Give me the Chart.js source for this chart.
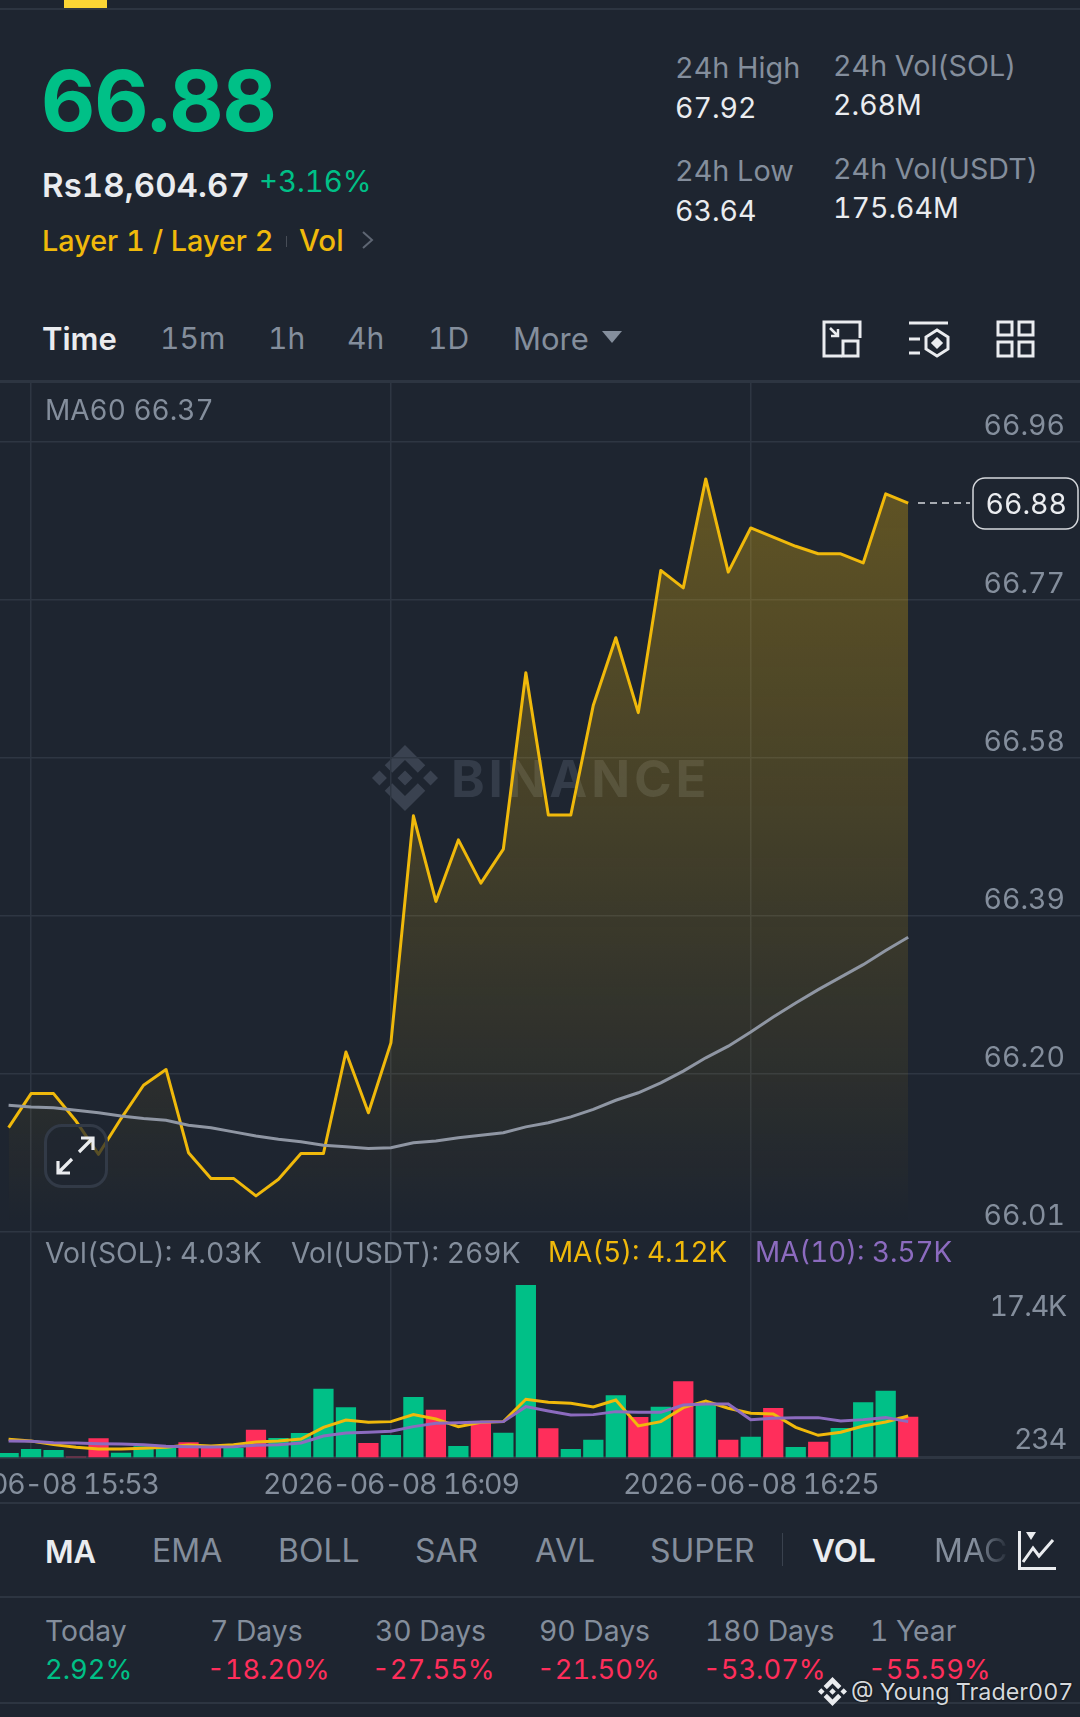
<!DOCTYPE html>
<html><head><meta charset="utf-8">
<script src="https://cdn.jsdelivr.net/npm/chart.js@4"></script>
<style>
html,body{margin:0;padding:0;background:#1e2530;width:1080px;height:1717px;overflow:hidden;font-family:Inter,sans-serif;font-variant-numeric:tabular-nums}
.t{position:absolute;white-space:nowrap;transform:translateY(-50%);line-height:1;font-size:28.3px;color:#848e9c;letter-spacing:0}
.w{color:#eaecef}.g{color:#00c087}.r{color:#ff2e5b}.y{color:#f0b90b}.b{font-weight:600}
.n{font-size:28.5px}
.ind{font-size:32px}
.hr{position:absolute;left:0;width:1080px;background:#2d3541}
canvas{position:absolute;left:0}
svg{position:absolute;overflow:visible}
</style></head><body>
<div class="hr" style="top:8px;height:2px"></div>
<div style="position:absolute;left:64px;top:0;width:43px;height:8px;background:#fcd535"></div>

<div class="t g" style="left:41px;top:101px;font-size:84px;font-weight:700;letter-spacing:-1px">66.88</div>
<div class="t w" style="left:42px;top:185px;font-size:33px;font-weight:600;letter-spacing:.1px">Rs18,604.67</div>
<div class="t g" style="left:259px;top:182px;font-size:29.3px">+3.16%</div>
<div class="t y" style="left:42px;top:241px;font-size:28.8px;font-weight:500">Layer 1 / Layer 2</div>
<div style="position:absolute;left:286px;top:236px;width:1px;height:11px;background:#474d57"></div>
<div class="t y" style="left:299px;top:241px;font-size:29.5px;font-weight:500">Vol</div>
<svg style="left:360px;top:230px" width="16" height="20"><path d="M3 2 L12 10 L3 18" fill="none" stroke="#5e6673" stroke-width="2"/></svg>

<div class="t" style="left:675px;top:68px;font-size:28.8px">24h High</div>
<div class="t w n" style="left:675px;top:108px">67.92</div>
<div class="t" style="left:833px;top:66px;font-size:28.7px">24h Vol(SOL)</div>
<div class="t w n" style="left:833px;top:105px">2.68M</div>
<div class="t" style="left:675px;top:171px;font-size:28.8px">24h Low</div>
<div class="t w n" style="left:675px;top:211px">63.64</div>
<div class="t" style="left:833px;top:169px;font-size:28.7px">24h Vol(USDT)</div>
<div class="t w n" style="left:833px;top:208px">175.64M</div>

<div class="t w b" style="left:42px;top:338px;font-size:31px">Time</div>
<div class="t" style="left:160px;top:338px;font-size:30px">15m</div>
<div class="t" style="left:268px;top:338px;font-size:30px">1h</div>
<div class="t" style="left:347px;top:338px;font-size:30px">4h</div>
<div class="t" style="left:428px;top:338px;font-size:30px">1D</div>
<div class="t" style="left:513px;top:338px;font-size:31px">More</div>
<svg style="left:602px;top:330px" width="20" height="14"><path d="M0 1 H20 L10 13 Z" fill="#848e9c"/></svg>

<svg style="left:822px;top:320px" width="40" height="38" fill="none" stroke="#eaecef" stroke-width="3"><path d="M20 2 H38 V18 M2 14 V2 H20 M2 14 V36 H20"/><rect x="21" y="21" width="15" height="15"/><path d="M8 8 L16 16 M16 9 V16 H9" stroke-width="2.500"/></svg>
<svg style="left:908px;top:320px" width="42" height="38" fill="none" stroke="#eaecef" stroke-width="3"><path d="M1 3 H40 M1 19 H12 M1 33 H12"/><path d="M29 10 L40 17 V29 L29 36 L18 29 V17 Z"/><path d="M29 19 L33 23 L29 27 L25 23 Z" fill="#eaecef"/></svg>
<svg style="left:996px;top:320px" width="40" height="38" fill="none" stroke="#eaecef" stroke-width="3"><rect x="2" y="2" width="14" height="13"/><rect x="23" y="2" width="14" height="13"/><rect x="2" y="22" width="14" height="14"/><rect x="23" y="22" width="14" height="14"/></svg>

<div class="hr" style="top:380px;height:3px"></div>

<!-- watermark sits behind the transparent chart canvas -->
<svg style="left:372px;top:745px" width="66" height="66" viewBox="0 0 126.61 126.61" fill="#3a4250"><path d="M38.73 53.2L63.3 28.64l24.59 24.58 14.3-14.3L63.3 0 24.43 38.9l14.3 14.3zM0 63.31l14.3-14.31 14.31 14.31-14.31 14.3zM38.73 73.41L63.3 97.97l24.59-24.58 14.31 14.29-38.9 38.91-38.86-38.88-.02-.02zM97.99 63.31l14.3-14.31 14.32 14.3-14.32 14.31zM77.83 63.3l-14.5-14.52-10.73 10.73-1.24 1.23-2.54 2.54 14.51 14.5 14.5-14.49z"/></svg>
<div class="t" style="left:451px;top:778px;font-size:51px;font-weight:700;color:#343c49;letter-spacing:3.8px">BINANCE</div>

<canvas id="priceChart" width="1080" height="851" style="top:383px;width:1080px;height:851px"></canvas>
<canvas id="volumeChart" width="1080" height="266" style="top:1234px;width:1080px;height:266px"></canvas>

<div class="t" style="left:45px;top:410px;font-size:28px">MA60 66.37</div>

<div style="position:absolute;left:44px;top:1124px;width:58px;height:58px;border:3px solid #323a47;border-radius:18px;background:rgba(30,37,48,.72)"></div>
<svg style="left:55px;top:1135px" width="42" height="42" fill="none" stroke="#eaecef" stroke-width="3.2"><path d="M24 17 L38 3 M26 3 H38 V15"/><path d="M17 24 L3 38 M3 26 V38 H15"/></svg>

<div class="t" style="left:45px;top:1253px">Vol(SOL): 4.03K</div>
<div class="t" style="left:291px;top:1253px;font-size:28.2px">Vol(USDT): 269K</div>
<div class="t y" style="left:548px;top:1253px;font-size:27.8px">MA(5): 4.12K</div>
<div class="t" style="left:755px;top:1253px;font-size:27.8px;color:#8c6bbf">MA(10): 3.57K</div>

<div class="hr" style="top:1502px;height:2px"></div>
<div class="t w b ind" style="left:45px;top:1551px;font-size:31px">MA</div>
<div class="t ind" style="left:152px;top:1551px">EMA</div>
<div class="t ind" style="left:278px;top:1551px">BOLL</div>
<div class="t ind" style="left:415px;top:1551px">SAR</div>
<div class="t ind" style="left:535px;top:1551px">AVL</div>
<div class="t ind" style="left:650px;top:1551px">SUPER</div>
<div style="position:absolute;left:782px;top:1533px;width:1px;height:33px;background:#3a424e"></div>
<div class="t w b ind" style="left:812px;top:1551px;font-size:31.5px">VOL</div>
<div class="t ind" style="left:934px;top:1551px;width:76px;overflow:hidden;height:34px;line-height:34px;-webkit-mask-image:linear-gradient(90deg,#000 55%,transparent)">MACD</div>
<svg style="left:1018px;top:1531px" width="40" height="40" fill="none" stroke="#eaecef" stroke-width="3"><path d="M1.500 0 V37.500 H38"/><path d="M5 31 L15 17 L21 25 L35 9"/><path d="M8 1 H18 L13 9 Z" fill="#eaecef" stroke="none"/></svg>

<div class="hr" style="top:1596px;height:2px"></div>
<div class="t" style="left:45px;top:1631px">Today</div><div class="t g" style="left:45px;top:1670px;font-size:27.3px">2.92%</div>
<div class="t" style="left:210px;top:1631px">7 Days</div><div class="t r" style="left:207px;top:1670px;font-size:27.3px">-18.20%</div>
<div class="t" style="left:375px;top:1631px">30 Days</div><div class="t r" style="left:372px;top:1670px;font-size:27.3px">-27.55%</div>
<div class="t" style="left:539px;top:1631px">90 Days</div><div class="t r" style="left:537px;top:1670px;font-size:27.3px">-21.50%</div>
<div class="t" style="left:705px;top:1631px">180 Days</div><div class="t r" style="left:703px;top:1670px;font-size:27.3px">-53.07%</div>
<div class="t" style="left:870px;top:1631px">1 Year</div><div class="t r" style="left:868px;top:1670px;font-size:27.3px">-55.59%</div>
<div class="hr" style="top:1702px;height:2px"></div>

<svg style="left:818px;top:1677px" width="29" height="29" viewBox="0 0 126.61 126.61" fill="#eaecef"><path d="M38.73 53.2L63.3 28.64l24.59 24.58 14.3-14.3L63.3 0 24.43 38.9l14.3 14.3zM0 63.31l14.3-14.31 14.31 14.31-14.31 14.3zM38.73 73.41L63.3 97.97l24.59-24.58 14.31 14.29-38.9 38.91-38.86-38.88-.02-.02zM97.99 63.31l14.3-14.31 14.32 14.3-14.32 14.31zM77.83 63.3l-14.5-14.52-10.73 10.73-1.24 1.23-2.54 2.54 14.51 14.5 14.5-14.49z"/></svg>
<div class="t" style="left:851px;top:1692px;font-size:23.3px;color:#d5d8dc;text-shadow:0 0 2px #000">@ Young Trader007</div>

<script>
// ---- data ----
const times = ['15:52','15:53','15:54','15:55','15:56','15:57','15:58','15:59','16:00','16:01','16:02','16:03','16:04','16:05','16:06','16:07','16:08','16:09','16:10','16:11','16:12','16:13','16:14','16:15','16:16','16:17','16:18','16:19','16:20','16:21','16:22','16:23','16:24','16:25','16:26','16:27','16:28','16:29','16:30','16:31','16:32'];
const price = [66.135,66.176,66.176,66.143,66.103,66.146,66.186,66.205,66.105,66.074,66.074,66.053,66.073,66.104,66.104,66.226,66.153,66.237,66.510,66.407,66.481,66.429,66.470,66.682,66.511,66.511,66.643,66.724,66.634,66.805,66.784,66.915,66.803,66.856,66.845,66.834,66.825,66.825,66.814,66.897,66.886];
const ma60 = [66.162,66.160,66.159,66.156,66.153,66.149,66.146,66.144,66.138,66.135,66.130,66.125,66.121,66.118,66.114,66.112,66.110,66.111,66.117,66.119,66.123,66.126,66.129,66.136,66.141,66.148,66.157,66.168,66.177,66.189,66.203,66.219,66.233,66.250,66.268,66.285,66.301,66.316,66.331,66.348,66.364];
const volume = [633,1032,933,250,2100,663,1302,1132,1701,1132,1132,2959,2130,2629,7050,5194,1631,2430,6222,4955,1332,3797,2659,17400,3098,1032,1961,6392,4226,5254,7789,5623,1961,2260,5124,1232,1761,3128,5693,6851,4256];
const volumeDir = ['u','u','u','d','d','u','u','u','d','d','u','d','u','u','u','u','d','u','u','d','u','d','u','u','d','u','u','u','d','u','d','u','d','u','d','u','d','u','u','u','d'];
const volMA5 = [2031,1864,1498,1232,1066,1066,1132,1232,1465,1365,1498,1764,1864,2064,3228,3960,3727,3794,4493,4060,3295,3727,3794,6023,5724,5624,5258,5956,3361,3794,5191,5857,5125,4626,4559,3228,2430,2729,3361,3761,4359];
const volMA10 = [1864,1831,1698,1665,1598,1565,1498,1332,1299,1265,1299,1432,1498,1665,2363,2663,2729,2829,3295,3627,3694,3761,3794,5291,4859,4459,4493,4792,4725,4725,5457,5557,5557,3994,4127,4193,4193,3860,3994,4193,3794];
const priceTicks = [66.01,66.20,66.39,66.58,66.77,66.96];
const volumeTickLow = [234];
const volumeTickHigh = [17400];
const volumeTickHighLabel = '17.4K';
const xTickIndex = [1,17,33];
const xTickLabels = ['2026-06-08 15:53','2026-06-08 16:09','2026-06-08 16:25'];
const lastPriceLabel = '66.88';

// ---- styles ----
const GRID='#2e3642', TXT='#848e9c', GOLD='#f0b90b', FONT='Inter, sans-serif', TICK=28.5;
const XMIN=-0.382, XMAX=47.64;
const pts = arr => arr.map((y,i)=>({x:i,y}));
Chart.defaults.font.family = FONT;
Chart.defaults.animation = false;
const base = {responsive:false,devicePixelRatio:1,maintainAspectRatio:false,layout:{padding:0},
  plugins:{legend:{display:false},tooltip:{enabled:false}},events:[]};
const noPad = s=>{s.paddingLeft=s.paddingRight=s.paddingTop=s.paddingBottom=0};
const xGrid = {type:'linear',min:XMIN,max:XMAX,offset:false,border:{display:false},
  afterBuildTicks:s=>{s.ticks=xTickIndex.map(value=>({value}))},
  afterFit:noPad,
  grid:{color:GRID,lineWidth:1.5,drawTicks:false,offset:false}};
const zeroW = s=>{s.width=0;noPad(s)};
const mirrorTicks = (extra)=>Object.assign({mirror:true,padding:-14,z:2,color:TXT,font:{size:TICK,family:FONT}},extra);

const lastPricePlugin = {id:'lastPrice',afterDatasetsDraw(c){
  const {ctx,scales:{y}}=c, py=y.getPixelForValue(price[price.length-1]);
  ctx.save();
  ctx.strokeStyle='#d5d8dc';ctx.lineWidth=1.5;ctx.setLineDash([7,5]);
  ctx.beginPath();ctx.moveTo(918,py);ctx.lineTo(970,py);ctx.stroke();ctx.setLineDash([]);
  ctx.fillStyle='#1e2530';ctx.lineWidth=1.5;
  ctx.beginPath();ctx.roundRect(973,py-25,105,51,12);ctx.fill();ctx.stroke();
  ctx.fillStyle='#eaecef';ctx.font=TICK+'px '+FONT;ctx.textAlign='right';ctx.textBaseline='middle';
  ctx.fillText(lastPriceLabel,1067,py+2);
  ctx.restore();
}};
const tightText = {id:'tightText',beforeDraw(c){c.ctx.letterSpacing='-1.15px'}};

new Chart(document.getElementById('priceChart'),{
  type:'line',
  data:{datasets:[
    {data:pts(ma60),borderColor:'#8f96a3',borderWidth:3,pointRadius:0,tension:0,fill:false,order:1},
    {data:pts(price),borderColor:GOLD,borderWidth:3,pointRadius:0,tension:0,order:2,borderJoinStyle:'round',
     fill:'origin',
     backgroundColor(ctx){
       const a=ctx.chart.chartArea; if(!a) return 'transparent';
       const g=ctx.chart.ctx.createLinearGradient(0,90,0,a.bottom-10);
       g.addColorStop(0,'rgba(240,185,11,0.32)');
       g.addColorStop(0.45,'rgba(240,185,11,0.19)');
       g.addColorStop(1,'rgba(240,185,11,0)');
       return g;
     }}
  ]},
  options:Object.assign({},base,{
    scales:{
      x:Object.assign({},xGrid,{ticks:{display:false}}),
      y:{type:'linear',position:'right',min:66.0072,max:67.0303,border:{display:false},
         afterFit:zeroW,
         afterBuildTicks:s=>{s.ticks=priceTicks.map(value=>({value}))},
         grid:{color:GRID,lineWidth:1.5,drawTicks:false},
         ticks:mirrorTicks({padding:-15,labelOffset:-15,callback:v=>v.toFixed(2)})}
    }}),
  plugins:[lastPricePlugin]
});

new Chart(document.getElementById('volumeChart'),{
  type:'bar',
  data:{datasets:[
    {type:'line',data:pts(volMA10),borderColor:'#8c6bbf',borderWidth:3,pointRadius:0,tension:0,order:1},
    {type:'line',data:pts(volMA5),borderColor:GOLD,borderWidth:3,pointRadius:0,tension:0,order:2},
    {type:'bar',data:pts(volume),barThickness:19.6,order:3,
     backgroundColor:volumeDir.map(d=>d==='u'?'#00c087':'#ff2e5b')}
  ]},
  options:Object.assign({},base,{
    scales:{
      x:Object.assign({},xGrid,{
        afterFit:s=>{s.height=42.7;noPad(s)},
        ticks:{autoSkip:false,maxRotation:0,padding:11,color:TXT,font:{size:TICK,family:FONT},
               callback:v=>xTickLabels[xTickIndex.indexOf(v)]}}),
      y:{type:'linear',position:'right',min:234,max:22520,border:{display:false},
         afterFit:zeroW,
         afterBuildTicks:s=>{s.ticks=volumeTickLow.map(value=>({value}))},
         grid:{color:GRID,lineWidth:3,drawTicks:false},
         ticks:mirrorTicks({labelOffset:-17,callback:v=>String(v)})},
      y2:{type:'linear',position:'right',min:234,max:22520,border:{display:false},
         afterFit:zeroW,
         afterBuildTicks:s=>{s.ticks=volumeTickHigh.map(value=>({value}))},
         grid:{display:false,drawTicks:false},
         ticks:mirrorTicks({labelOffset:22,callback:()=>volumeTickHighLabel})}
    }}),
  plugins:[tightText]
});
</script>
</body></html>
